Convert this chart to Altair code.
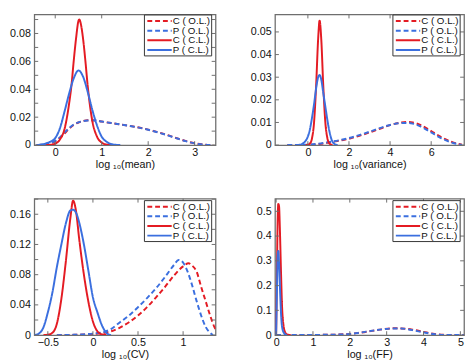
import altair as alt
import pandas as pd

RED = "#e41b23"
BLUE = "#3b6fdf"
FRAME = "#6e6e6e"
FONT = "Liberation Sans"
SERIES = ["C ( O.L.)", "P ( O.L.)", "C ( C.L.)", "P ( C.L.)"]
COLORS = [RED, BLUE, RED, BLUE]
DASHES = [[5, 3], [5, 3], [1, 0], [1, 0]]

# ---------------- panel 1 : log10(mean) ----------------
mean_x_ol = [-0.4, -0.3, -0.2, -0.1, 0, 0.1, 0.2, 0.3, 0.4, 0.5, 0.6, 0.7, 0.8, 0.9, 1.0,
             1.2, 1.4, 1.6, 1.8, 2.0, 2.2, 2.4, 2.6, 2.8, 3.0, 3.2, 3.4]
mean_c_ol = [0, 0.0002, 0.0006, 0.0013, 0.0027, 0.005, 0.0083, 0.0118, 0.0145, 0.0162, 0.0173,
             0.0178, 0.0178, 0.0175, 0.0169, 0.0158, 0.0148, 0.0138, 0.0126, 0.0111, 0.0093,
             0.0073, 0.0051, 0.003, 0.0013, 0.0004, 0]
mean_p_ol = [0, 0.0003, 0.0008, 0.0016, 0.003, 0.0055, 0.009, 0.0122, 0.0148, 0.0163, 0.0172,
             0.0176, 0.0177, 0.0175, 0.0169, 0.0158, 0.0148, 0.0137, 0.0125, 0.011, 0.0092,
             0.0072, 0.005, 0.0029, 0.0012, 0.0003, 0]
mean_x_c_cl = [-0.2, -0.1, 0, 0.1, 0.2, 0.3, 0.35, 0.4, 0.45, 0.5, 0.52, 0.55, 0.6, 0.65, 0.7,
               0.8, 0.9, 1.0, 1.1, 1.2]
mean_c_cl = [0, 0.0002, 0.001, 0.004, 0.0115, 0.030, 0.043, 0.061, 0.077, 0.089, 0.090, 0.087,
             0.076, 0.060, 0.042, 0.017, 0.006, 0.0018, 0.0004, 0]
mean_x_p_cl = [-0.4, -0.3, -0.2, -0.1, 0, 0.1, 0.2, 0.3, 0.4, 0.5, 0.6, 0.7, 0.8, 0.9, 1.0,
               1.1, 1.2, 1.3, 1.4]
mean_p_cl = [0, 0.0004, 0.0012, 0.0025, 0.005, 0.012, 0.024, 0.037, 0.048, 0.0535, 0.049,
             0.038, 0.025, 0.014, 0.006, 0.0025, 0.0008, 0.0002, 0]

# ---------------- panel 2 : log10(variance) ----------------
var_x_ol = [-1, 0, 0.5, 1, 1.5, 2, 2.5, 3, 3.5, 4, 4.5, 4.8, 5.1, 5.5, 6, 6.5, 7, 7.5]
var_c_ol = [0, 0.0001, 0.0004, 0.0011, 0.0019, 0.0028, 0.0041, 0.0056, 0.0072, 0.0088, 0.0099,
            0.0102, 0.0100, 0.0088, 0.0062, 0.0035, 0.0014, 0.0002]
var_p_ol = [0, 0.0002, 0.0006, 0.0013, 0.0021, 0.0031, 0.0044, 0.0059, 0.0075, 0.0089, 0.0097,
            0.0098, 0.0095, 0.0082, 0.0056, 0.003, 0.0011, 0.0001]
var_x_c_cl = [-0.1, 0, 0.1, 0.2, 0.3, 0.4, 0.5, 0.57, 0.65, 0.75, 0.85, 0.95, 1.05, 1.2]
var_c_cl = [0, 0.0002, 0.0007, 0.003, 0.010, 0.026, 0.047, 0.055, 0.047, 0.026, 0.010, 0.003,
            0.0007, 0]
var_x_p_cl = [-0.5, -0.3, -0.2, -0.1, 0, 0.1, 0.2, 0.3, 0.4, 0.5, 0.57, 0.65, 0.75, 0.85, 0.95,
              1.05, 1.15, 1.3, 1.45]
var_p_cl = [0, 0.0004, 0.001, 0.002, 0.0038, 0.007, 0.012, 0.018, 0.025, 0.030, 0.031, 0.029,
            0.023, 0.017, 0.011, 0.006, 0.0025, 0.0005, 0]

# ---------------- panel 3 : log10(CV) ----------------
cv_x_c_ol = [-0.4, -0.2, -0.1, 0, 0.1, 0.2, 0.3, 0.4, 0.5, 0.6, 0.7, 0.8, 0.9, 1.0, 1.06, 1.1,
             1.15, 1.2, 1.25, 1.3, 1.35, 1.4]
cv_c_ol = [0, 0.0004, 0.0008, 0.0015, 0.0025, 0.005, 0.010, 0.017, 0.026, 0.037, 0.050, 0.064,
           0.079, 0.091, 0.095, 0.092, 0.084, 0.064, 0.045, 0.026, 0.010, 0.002]
cv_x_p_ol = [-0.4, -0.2, -0.1, 0, 0.1, 0.2, 0.3, 0.4, 0.5, 0.6, 0.7, 0.8, 0.9, 0.95, 1.0, 1.05,
             1.1, 1.15, 1.2, 1.25, 1.3, 1.33]
cv_p_ol = [0, 0.0005, 0.001, 0.002, 0.0035, 0.008, 0.017, 0.026, 0.037, 0.049, 0.062, 0.077,
           0.093, 0.0995, 0.096, 0.084, 0.066, 0.045, 0.026, 0.011, 0.003, 0]
cv_x_c_cl = [-0.55, -0.5, -0.45, -0.4, -0.35, -0.3, -0.25, -0.22, -0.19, -0.15, -0.1, -0.05, 0,
             0.05, 0.1, 0.15]
cv_c_cl = [0, 0.0005, 0.003, 0.015, 0.048, 0.098, 0.155, 0.178, 0.166, 0.125, 0.080, 0.044,
           0.018, 0.005, 0.001, 0]
cv_x_p_cl = [-0.65, -0.6, -0.55, -0.5, -0.45, -0.4, -0.35, -0.3, -0.25, -0.22, -0.18, -0.15,
             -0.1, -0.05, 0, 0.05, 0.1, 0.15, 0.2]
cv_p_cl = [0, 0.002, 0.01, 0.03, 0.056, 0.09, 0.12, 0.148, 0.165, 0.166, 0.16, 0.148, 0.12,
           0.085, 0.05, 0.03, 0.013, 0.003, 0]

# ---------------- panel 4 : log10(FF) ----------------
ff_x_ol = [0, 0.5, 1, 1.5, 2, 2.3, 2.6, 2.9, 3.2, 3.4, 3.7, 4.0, 4.3, 4.6, 4.9, 5.2]
ff_c_ol = [0, 0.0004, 0.0008, 0.0015, 0.005, 0.010, 0.017, 0.0235, 0.0275, 0.027, 0.022, 0.013,
           0.0045, 0.001, 0.0002, 0]
ff_p_ol = [0, 0.0004, 0.0008, 0.0016, 0.0045, 0.0105, 0.0175, 0.0235, 0.027, 0.0265, 0.020,
           0.011, 0.0035, 0.0007, 0.0001, 0]
ff_x_c_cl = [0, 0.02, 0.04, 0.06, 0.08, 0.1, 0.13, 0.16, 0.2, 0.25, 0.3, 0.4]
ff_c_cl = [0, 0.22, 0.45, 0.53, 0.52, 0.44, 0.27, 0.12, 0.04, 0.01, 0.003, 0]
ff_x_p_cl = [0, 0.02, 0.04, 0.06, 0.08, 0.11, 0.14, 0.18, 0.25, 0.3]
ff_p_cl = [0, 0.16, 0.31, 0.34, 0.29, 0.17, 0.07, 0.02, 0.003, 0]


def long_df(parts):
    rows = []
    for s, xs, ys in parts:
        for xv, yv in zip(xs, ys):
            rows.append({"x": xv, "y": yv, "series": s})
    return pd.DataFrame(rows)


def panel(parts, xdom, ydom, xticks, ylabels, yminor, xtitle, W, H, legend_top):
    xenc = alt.X("x:Q", scale=alt.Scale(domain=xdom, nice=False, zero=False),
                 axis=alt.Axis(values=xticks, title=xtitle, format="~g", ticks=False, domain=False,
                               grid=False, labelFont=FONT, labelFontSize=11, labelColor="#111",
                               labelPadding=2, labelFlush=False, titleFont=FONT, titleFontSize=11,
                               titleFontWeight="normal", titleColor="#111", titlePadding=1))
    yenc = alt.Y("y:Q", scale=alt.Scale(domain=ydom, nice=False, zero=False),
                 axis=alt.Axis(values=ylabels, title=None, format=".2~f", ticks=False, domain=False,
                               grid=False, labelFont=FONT, labelFontSize=11, labelColor="#111",
                               labelPadding=4))
    df = long_df(parts)
    lines = alt.Chart(df).mark_line(strokeWidth=2, clip=True, interpolate="monotone").encode(
        x=xenc, y=yenc,
        color=alt.Color("series:N", scale=alt.Scale(domain=SERIES, range=COLORS), legend=None),
        strokeDash=alt.StrokeDash("series:N", scale=alt.Scale(domain=SERIES, range=DASHES),
                                  legend=None),
        order=alt.Order("x:Q"),
    )
    ytk = pd.DataFrame({"y": yminor})
    xtk = pd.DataFrame({"x": xticks})
    tick_style = dict(color=FRAME, strokeWidth=1)
    left = alt.Chart(ytk).mark_rule(**tick_style).encode(y=yenc, x=alt.value(0), x2=alt.value(4))
    right = alt.Chart(ytk).mark_rule(**tick_style).encode(y=yenc, x=alt.value(W - 4), x2=alt.value(W))
    bottom = alt.Chart(xtk).mark_rule(**tick_style).encode(x=xenc, y=alt.value(H - 4), y2=alt.value(H))
    top = alt.Chart(xtk).mark_rule(**tick_style).encode(x=xenc, y=alt.value(0), y2=alt.value(4))

    dummy = pd.DataFrame({"k": [0]})
    layers = [lines, left, right, bottom, top]
    box = alt.Chart(dummy).mark_rect(fill="white", stroke="#333", strokeWidth=1).encode(
        x=alt.value(W - 73), x2=alt.value(W - 4), y=alt.value(legend_top),
        y2=alt.value(legend_top + 42))
    layers.append(box)
    for i, (s, c, d) in enumerate(zip(SERIES, COLORS, DASHES)):
        ry = legend_top + 6.2 + i * 9.9
        layers.append(alt.Chart(dummy).mark_rule(color=c, strokeWidth=2, strokeDash=d).encode(
            x=alt.value(W - 70), x2=alt.value(W - 45), y=alt.value(ry)))
        layers.append(alt.Chart(dummy).mark_text(align="left", baseline="middle", font=FONT,
                                                 fontSize=10, color="#111").encode(
            x=alt.value(W - 44), y=alt.value(ry), text=alt.value(s)))
    return alt.layer(*layers).properties(width=W, height=H)


W_LEFT = 186
W_RIGHT = 194
H_TOP = 134
H_BOT = 140

p1 = panel([(SERIES[0], mean_x_ol, mean_c_ol), (SERIES[1], mean_x_ol, mean_p_ol),
            (SERIES[2], mean_x_c_cl, mean_c_cl), (SERIES[3], mean_x_p_cl, mean_p_cl)],
           [-0.45, 3.45], [0, 0.0936], [0, 1, 2, 3], [0, 0.02, 0.04, 0.06, 0.08],
           [0, 0.01, 0.02, 0.03, 0.04, 0.05, 0.06, 0.07, 0.08, 0.09],
           "log \u2081\u2080(mean)", W_LEFT, H_TOP, 0.5)
p2 = panel([(SERIES[0], var_x_ol, var_c_ol), (SERIES[1], var_x_ol, var_p_ol),
            (SERIES[2], var_x_c_cl, var_c_cl), (SERIES[3], var_x_p_cl, var_p_cl)],
           [-1.6, 7.6], [0, 0.0577], [0, 2, 4, 6], [0, 0.01, 0.02, 0.03, 0.04, 0.05],
           [0, 0.01, 0.02, 0.03, 0.04, 0.05],
           "log \u2081\u2080(variance)", W_RIGHT, H_TOP, 0.5)
p3 = panel([(SERIES[0], cv_x_c_ol, cv_c_ol), (SERIES[1], cv_x_p_ol, cv_p_ol),
            (SERIES[2], cv_x_c_cl, cv_c_cl), (SERIES[3], cv_x_p_cl, cv_p_cl)],
           [-0.65, 1.36], [0, 0.1806], [-0.5, 0, 0.5, 1], [0, 0.04, 0.08, 0.12, 0.16],
           [0, 0.02, 0.04, 0.06, 0.08, 0.1, 0.12, 0.14, 0.16, 0.18],
           "log \u2081\u2080(CV)", W_LEFT, H_BOT, 2)
p4 = panel([(SERIES[0], ff_x_ol, ff_c_ol), (SERIES[1], ff_x_ol, ff_p_ol),
            (SERIES[2], ff_x_c_cl, ff_c_cl), (SERIES[3], ff_x_p_cl, ff_p_cl)],
           [-0.03, 5.1], [0, 0.551], [0, 1, 2, 3, 4, 5], [0, 0.1, 0.2, 0.3, 0.4, 0.5],
           [0, 0.1, 0.2, 0.3, 0.4, 0.5],
           "log \u2081\u2080(FF)", W_RIGHT, H_BOT, 2)

chart = alt.concat(p1, p2, p3, p4, columns=2, spacing={"row": 55, "column": 61},
                   bounds="flush").properties(
    padding={"left": 0, "top": 0, "right": 0, "bottom": 0}
).configure_view(stroke=FRAME, strokeWidth=1.3)

chart.save("out.html", embed_options={"renderer": "svg", "actions": False})
